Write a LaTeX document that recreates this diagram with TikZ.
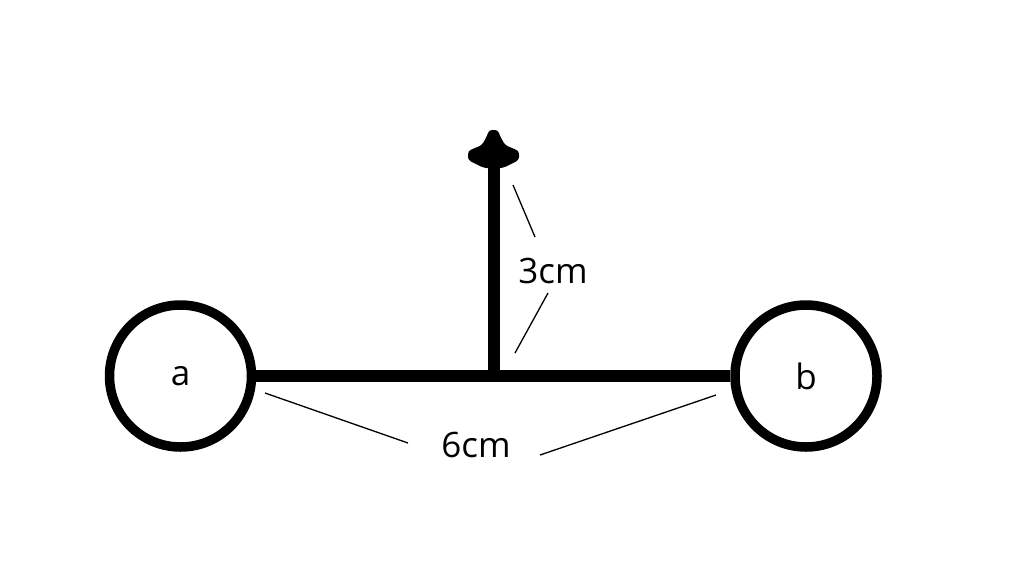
\documentclass[tikz,border=0pt]{standalone}
\usepackage{fontspec}
\setmainfont{Open Sans}
\begin{document}
\begin{tikzpicture}[x=1pt,y=-1pt,
  ball/.style={circle,draw=black,line width=9.5pt,minimum size=142pt,inner sep=0pt,font=\fontsize{35}{40}\selectfont},
  rod/.style={line width=12pt},
  dim/.style={line width=1.3pt},
  lbl/.style={font=\fontsize{35}{40}\selectfont,inner sep=0pt}]
\useasboundingbox (0,0) rectangle (1024,584);
\node[ball] (a) at (180.5,376) {a};
\node[ball] (b) at (806,376) {b};
\coordinate (mid) at (493.5,376);
\coordinate (top) at (493.5,160);
\draw[rod] (a) -- (b);
\draw[rod] (mid) -- (top);
\fill[rounded corners=3pt] (487,136) -- (489,130) -- (498,130) -- (500,136) -- (505,145) -- (519,151) -- (519,160) -- (503,168) -- (484,168) -- (468,160) -- (468,151) -- (482,145) -- cycle;
\node[lbl] (l3) at (553,271) {3cm};
\node[lbl] (l6) at (476,445) {6cm};
\coordinate (d1) at (513,185);
\coordinate (d2) at (535,237);
\coordinate (d3) at (548,293);
\coordinate (d4) at (515,353);
\coordinate (e1) at (265,393);
\coordinate (e2) at (408,443);
\coordinate (e3) at (540,455);
\coordinate (e4) at (716,395);
\draw[dim] (d1) -- (d2);
\draw[dim] (d3) -- (d4);
\draw[dim] (e1) -- (e2);
\draw[dim] (e3) -- (e4);
\end{tikzpicture}
\end{document}
